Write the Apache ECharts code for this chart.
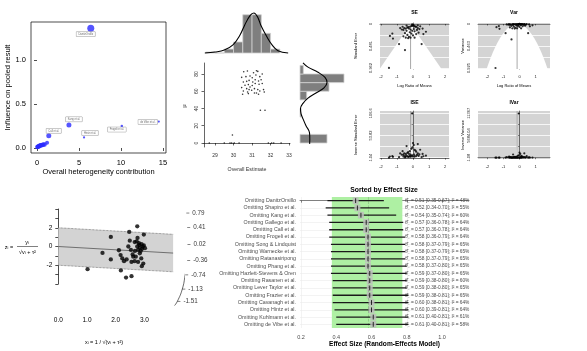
<!DOCTYPE html>
<html>
<head>
<meta charset="utf-8">
<title>meta-analysis diagnostics</title>
<script src="https://cdn.jsdelivr.net/npm/echarts@6/dist/echarts.min.js"></script>
<style>
  html, body { margin: 0; padding: 0; background: #fff; }
  #chart { width: 587px; height: 351px; }
</style>
</head>
<body>
<div id="chart"></div>
<script>
// Baujat plot
var baujatX = [6.4, 3.8, 1.4, 5.6, 10.1, 14.5, 1.2, 0.9, 0.65, 0.5, 0.35, 0.2, 0.1, 0.05, 0.4, 0.75, 0.25];
var baujatY = [1.36, 0.26, 0.14, 0.12, 0.25, 0.30, 0.06, 0.04, 0.035, 0.03, 0.025, 0.02, 0.015, 0.01, 0.03, 0.04, 0.02];
var baujatWeight = [7, 5, 5, 2.2, 2.5, 2.2, 4, 4.5, 4.5, 4.5, 4.5, 4.5, 4.5, 4.5, 4.5, 4.5, 4.5];
var baujatLabel = ['DanitzOrsillo', 'Kang et al.', 'Call et al.', 'Hintz et al.', 'Frogeli et al.', 'de Vibe et al.',
  '', '', '', '', '', '', '', '', '', '', ''];

// GOSH plot: overall estimate vs I^2
var goshEst = [30.55, 30.75, 31.24, 30.44, 30.67, 30.89, 31.01, 31.21, 31.42, 31.55, 30.53, 30.71, 30.84, 31.04,
  31.17, 31.35, 31.49, 30.62, 30.80, 31.01, 31.17, 31.38, 31.55, 30.44, 30.71, 30.89, 31.13, 31.31, 31.62, 30.53,
  30.76, 30.98, 31.24, 31.42, 31.66, 30.49, 30.80, 31.13, 31.35, 30.84, 31.08, 31.31,
  28.69, 29.5, 29.81, 29.9, 30.04, 30.3, 31.88, 32.06, 32.17, 32.57, 29.94, 31.45, 31.7];
var goshI2 = [82.6, 83.4, 83.8, 76.1, 76.9, 77.6, 75.7, 78.8, 76.9, 80, 70.7, 71.5, 72.6, 70.7,
  73.4, 71.9, 73.4, 66.9, 67.7, 66.6, 68.9, 68.1, 68.9, 64.2, 63.0, 65.0, 63.0, 61.9, 61.9, 60.3,
  59.2, 61.1, 58.0, 60.3, 59.2, 56.5, 57.3, 58.0, 56.5, 61.9, 81.5, 83.0,
  0, 0, 0, 0, 0, 0, 0, 0, 0, 0, 9.3, 38, 38];
var estBinStart = [28.5, 29, 29.5, 30, 30.5, 31, 31.5, 32];
var estBinDensity = [0.017, 0, 0.068, 0.19, 0.66, 0.66, 0.34, 0.068];
var estCurveX = [28.45, 29.0, 29.5, 29.97, 30.35, 30.6, 30.9, 31.1, 31.3, 31.5, 31.8, 32.08, 32.4, 32.95];
var estCurveD = [0.0, 0.017, 0.05, 0.14, 0.31, 0.48, 0.65, 0.69, 0.62, 0.46, 0.28, 0.14, 0.04, 0.0];
var i2BinStart = [0, 10, 20, 30, 40, 50, 60, 70, 80];
var i2BinDensity = [0.027, 0, 0, 0.001, 0, 0.0067, 0.029, 0.044, 0.0033];
var i2CurveY = [93, 88, 82, 76, 70, 64, 58, 52, 46, 40, 34, 28, 20, 12, 4, -1];
var i2CurveD = [0.003, 0.008, 0.018, 0.025, 0.027, 0.024, 0.016, 0.008, 0.003, 0.0005, 0.001, 0.003, 0.006, 0.0095, 0.0098, 0.0096];

// funnel plots
var pooledEst = -0.15;
var studyEst = [-1.5, -1.44, -1.29, -1.25, -0.87, -0.5, 0.54, 0.81, 0.65, -0.05,
  0.0, 0.05, -0.05, -0.1, 0.1, -0.2, 0.15, -0.3, 0.2, -0.35, 0.3, -0.45, 0.4, -0.55, -0.25, -0.15, 0.05, -0.6, 0.25, -0.4,
  -0.05, 0.1, -0.2, 0.35, -0.5, -0.1, 0.2, -0.35, 0.0, -0.6, -0.25, -0.45, -0.3, -0.15, 0.1, -0.7, 0.45, -0.65, 0.3, -0.4,
  -0.8, 0.6];
var studySE = [0.962, 0.26, 0.21, 0.32, 0.44, 0.57, 0.44, 0.17, 0.22, 0.0094,
  0.028, 0.032, 0.04, 0.045, 0.05, 0.06, 0.055, 0.07, 0.065, 0.08, 0.09, 0.1, 0.11, 0.09, 0.1, 0.12, 0.11, 0.13, 0.13, 0.15,
  0.15, 0.16, 0.18, 0.19, 0.2, 0.21, 0.22, 0.24, 0.25, 0.27, 0.28, 0.3, 0.31, 0.3, 0.3, 0.12, 0.05, 0.06, 0.03, 0.035,
  0.09, 0.1];
var seTickLabels = ['0', '0.481', '0.962'];
var varTickLabels = ['0', '0.463', '0.925'];
var iseTickLabels = ['1.04', '53.82', '106.6'];
var ivarTickLabels = ['1.08', '5684.04', '11367'];

// radial (Galbraith) plot
var radialX = [1.02, 1.54, 1.83, 1.83, 2.18, 2.36, 2.55, 2.75, 2.47, 2.11, 2.17, 2.23, 2.29, 2.44, 2.49, 2.53, 2.59, 2.61,
  2.66, 2.73, 2.76, 2.82, 2.84, 2.90, 2.94, 2.98, 3.02, 2.89, 2.96, 2.91, 2.78, 2.70, 2.84, 2.98, 2.38, 2.55, 2.67, 2.78,
  2.87, 2.92, 2.75, 2.81, 2.66];
var radialZ = [-2.42, -0.69, 1.02, -1.38, -2.55, -3.31, -3.16, 2.15, 1.56, -0.4, -0.91, -1.27, -1.56, 0, 0.62, -0.36, -0.84,
  -1.09, -1.56, 0.55, 0.91, 0.18, -0.11, 0.25, 0, 0.11, -0.18, -1.27, -1.82, -2.1, -1.64, -1.09, -0.73, 1.27, -1.38, -1.64,
  -0.47, -0.36, -0.47, -0.25, 0, 0.36, 0.47];
var bandX = [0, 4.0];
var bandUpper = [2, 1.3];
var bandLower = [-2, -2.7];
var bandCentre = [0, -0.7];
var arcX = [4.44, 4.46, 4.49, 4.50, 4.49, 4.42, 4.32, 4.15, 4.05];
var arcZ = [3.95, 3.57, 2.05, 0.22, -1.51, -3.03, -4.54, -5.84, -6.3];
var arcLabels = ['', '0.79', '0.41', '0.02', '-0.36', '-0.74', '-1.13', '-1.51', ''];

// leave-one-out forest plot
var forestStudies = ['Omitting DanitzOrsillo', 'Omitting Shapiro et al.', 'Omitting Kang et al.', 'Omitting Gallego et al.',
  'Omitting Call et al.', 'Omitting Frogeli et al.', 'Omitting Song & Lindquist', 'Omitting Warnecke et al.',
  'Omitting Ratanasiripong', 'Omitting Phang et al.', 'Omitting Hazlett-Stevens & Oren', 'Omitting Rasanen et al.',
  'Omitting Lever Taylor et al.', 'Omitting Frazier et al.', 'Omitting Cavanagh et al.', 'Omitting Hintz et al.',
  'Omitting Kuhlmann et al.', 'Omitting de Vibe et al.'];
var forestEst = [0.51, 0.52, 0.54, 0.57, 0.57, 0.58, 0.58, 0.58, 0.58, 0.58, 0.59, 0.59, 0.59, 0.59, 0.60, 0.60, 0.61, 0.61];
var forestLo = [0.35, 0.34, 0.35, 0.36, 0.36, 0.36, 0.37, 0.37, 0.37, 0.37, 0.37, 0.38, 0.38, 0.38, 0.38, 0.39, 0.40, 0.40];
var forestHi = [0.67, 0.70, 0.74, 0.78, 0.78, 0.79, 0.79, 0.79, 0.79, 0.80, 0.80, 0.80, 0.80, 0.81, 0.81, 0.81, 0.81, 0.81];
var forestI2 = [48, 55, 60, 64, 64, 64, 65, 65, 65, 65, 65, 60, 65, 65, 64, 64, 61, 58];
var overallLo = 0.375, overallHi = 0.775, overallEst = 0.58;

var FONT = '"Liberation Sans", Arial, Helvetica, sans-serif';
var chart = echarts.init(document.getElementById('chart'));

function pairs(xs, ys) { return xs.map(function (x, i) { return [x, ys[i]]; }); }

function hiddenAxis(gi, min, max, inv) {
  return { gridIndex: gi, type: 'value', min: min, max: max, inverse: !!inv, show: false };
}

function funnelPolygon(levels, halfWidth) {
  var left = [], right = [];
  levels.forEach(function (l) {
    var h = halfWidth(l);
    left.push([pooledEst - h, l]);
    right.push([pooledEst + h, l]);
  });
  return left.concat(right.reverse());
}

function polygonSeries(gi, pts, color, clip) {
  return {
    type: 'custom', xAxisIndex: gi, yAxisIndex: gi, clip: clip, silent: true, z: 1, data: [0],
    renderItem: function (params, api) {
      return { type: 'polygon', shape: { points: pts.map(function (p) { return api.coord(p); }) }, style: { fill: color } };
    }
  };
}

// funnel axes: x ticks -2..2, y ticks from 5 values, 3 labelled
function funnelX(gi, min, max) {
  return {
    gridIndex: gi, type: 'value', min: min, max: max,
    axisLine: { show: true, lineStyle: { color: '#000', width: 0.5 } },
    axisTick: { length: 1.5, lineStyle: { color: '#000', width: 0.5 }, customValues: [-2, -1, 0, 1, 2] },
    axisLabel: { customValues: [-2, -1, 0, 1, 2], fontSize: 4, color: '#222', margin: 6, fontFamily: FONT },
    splitLine: { show: false }
  };
}
function funnelY(gi, min, max, inv, ticks, labels) {
  var labVals = [ticks[0], ticks[2], ticks[4]];
  return {
    gridIndex: gi, type: 'value', min: min, max: max, inverse: inv,
    axisLine: { show: true, lineStyle: { color: '#000', width: 0.5 } },
    axisTick: { length: 1.5, lineStyle: { color: '#000', width: 0.5 }, customValues: ticks },
    axisLabel: {
      customValues: labVals, rotate: 90, fontSize: 4, color: '#222', margin: 7, fontFamily: FONT,
      formatter: function (v) {
        for (var i = 0; i < 3; i++) { if (Math.abs(v - labVals[i]) < 1e-6 * Math.max(1, Math.abs(v))) return labels[i]; }
        return '';
      }
    },
    splitLine: { show: true, lineStyle: { color: '#fff', width: 0.8 } }
  };
}

var seTicks = [0, 0.2405, 0.481, 0.7215, 0.962];
var varTicks = [0, 0.2314, 0.4627, 0.6941, 0.9254];
var iseTicks = [1.04, 27.43, 53.82, 80.21, 106.6];
var ivarTicks = [1.08, 2842.5, 5684.04, 8525.5, 11367];

var grids = [
  { left: 31, top: 22, width: 135, height: 131, show: true, borderColor: '#000', borderWidth: 0.7, backgroundColor: '#fff' }, // 0 baujat
  { left: 204, top: 63, width: 86, height: 84 },   // 1 gosh scatter
  { left: 204, top: 13, width: 86, height: 40 },   // 2 gosh top hist
  { left: 300, top: 63, width: 50, height: 84 },   // 3 gosh right hist
  { left: 380, top: 23, width: 69, height: 46, show: true, borderWidth: 0, backgroundColor: '#d4d4d4' }, // 4 SE
  { left: 478, top: 23, width: 72, height: 46, show: true, borderWidth: 0, backgroundColor: '#d4d4d4' }, // 5 Var
  { left: 380, top: 111, width: 69, height: 48, show: true, borderWidth: 0, backgroundColor: '#d4d4d4' }, // 6 ISE
  { left: 478, top: 111, width: 72, height: 48, show: true, borderWidth: 0, backgroundColor: '#d4d4d4' }, // 7 IVar
  { left: 300, top: 197, width: 169, height: 131 }, // 8 forest
  { left: 58.3, top: 209, width: 126.3, height: 75 }, // 9 radial data
  { left: 58.3, top: 209, width: 100.45, height: 75 } // 10 radial axes
];

var xAxes = [
  {
    gridIndex: 0, type: 'value', min: -0.714, max: 15.357,
    axisLine: { show: false },
    axisTick: { length: 3, lineStyle: { color: '#000', width: 0.7 }, customValues: [0, 5, 10, 15] },
    axisLabel: { customValues: [0, 5, 10, 15], fontSize: 7.5, color: '#000', margin: 6, fontFamily: FONT },
    splitLine: { show: false },
    name: 'Overall heterogeneity contribution', nameLocation: 'middle', nameGap: 15,
    nameTextStyle: { fontSize: 7.5, color: '#000', fontFamily: FONT }
  },
  {
    gridIndex: 1, type: 'value', min: 28.405, max: 33.05,
    axisLine: { show: true, lineStyle: { color: '#000', width: 0.6 } },
    axisTick: { length: 2.5, lineStyle: { color: '#000', width: 0.6 }, customValues: [29, 30, 31, 32, 33] },
    axisLabel: { customValues: [29, 30, 31, 32, 33], fontSize: 5, color: '#333', margin: 6, fontFamily: FONT },
    splitLine: { show: false },
    name: 'Overall Estimate', nameLocation: 'middle', nameGap: 20,
    nameTextStyle: { fontSize: 5.3, color: '#333', fontFamily: FONT }
  },
  hiddenAxis(2, 28.405, 33.05),
  hiddenAxis(3, 0, 0.05),
  funnelX(4, -2.06, 2.25),
  funnelX(5, -2.594, 1.906),
  funnelX(6, -2.06, 2.25),
  funnelX(7, -2.594, 1.906),
  {
    gridIndex: 8, type: 'value', min: 0.1943, max: 1.1532, offset: 3,
    axisLine: { show: true, lineStyle: { color: '#333', width: 0.6 } },
    axisTick: { length: 2, lineStyle: { color: '#333', width: 0.6 }, customValues: [0.2, 0.4, 0.6, 0.8, 1.0] },
    axisLabel: { customValues: [0.2, 0.4, 0.6, 0.8, 1.0], fontSize: 5.5, color: '#4d4d4d', margin: 3, fontFamily: FONT,
      formatter: function (v) { return v.toFixed(1); } },
    splitLine: { show: true, lineStyle: { color: '#ebebeb', width: 0.6 } },
    name: 'Effect Size (Random-Effects Model)', nameLocation: 'middle', nameGap: 10,
    nameTextStyle: { fontSize: 6.6, fontWeight: 'bold', color: '#000', fontFamily: FONT }
  },
  hiddenAxis(9, 0, 4.4),
  {
    gridIndex: 10, type: 'value', min: 0, max: 3.5, interval: 0.5, offset: 28,
    axisLine: { show: true, lineStyle: { color: '#000', width: 0.7 } },
    axisTick: { length: 3, lineStyle: { color: '#000', width: 0.7 } },
    axisLabel: { fontSize: 6.5, color: '#000', margin: 5, fontFamily: FONT,
      formatter: function (v) { return v % 1 === 0 ? v.toFixed(1) : ''; } },
    splitLine: { show: false }
  }
];

var yAxes = [
  {
    gridIndex: 0, type: 'value', min: -0.057, max: 1.432,
    axisLine: { show: false },
    axisTick: { length: 3, lineStyle: { color: '#000', width: 0.7 }, customValues: [0, 0.5, 1] },
    axisLabel: { customValues: [0, 0.5, 1], fontSize: 7.5, color: '#000', margin: 5, fontFamily: FONT,
      formatter: function (v) { return v.toFixed(1); } },
    splitLine: { show: false },
    name: 'Influence on pooled result', nameLocation: 'middle', nameGap: 19,
    nameTextStyle: { fontSize: 7.5, color: '#000', fontFamily: FONT }
  },
  {
    gridIndex: 1, type: 'value', min: -4.64, max: 92.75,
    axisLine: { show: true, lineStyle: { color: '#000', width: 0.6 } },
    axisTick: { length: 2.5, lineStyle: { color: '#000', width: 0.6 }, customValues: [0, 20, 40, 60, 80] },
    axisLabel: { customValues: [0, 20, 40, 60, 80], rotate: 90, fontSize: 5, color: '#333', margin: 5, fontFamily: FONT },
    splitLine: { show: false }
  },
  hiddenAxis(2, 0, 0.69),
  hiddenAxis(3, -4.64, 92.75),
  funnelY(4, -0.022, 0.985, true, seTicks, seTickLabels),
  funnelY(5, -0.021, 0.946, true, varTicks, varTickLabels),
  funnelY(6, -2.05, 112.1, false, iseTicks, iseTickLabels),
  funnelY(7, -332, 11956, false, ivarTicks, ivarTickLabels),
  {
    gridIndex: 8, type: 'value', min: -0.5, max: 17.5, inverse: true,
    axisLine: { show: false },
    axisTick: { show: false, customValues: forestStudies.map(function (s, i) { return i; }) },
    axisLabel: { customValues: forestStudies.map(function (s, i) { return i; }), fontSize: 5.3, color: '#4d4d4d',
      margin: 4, fontFamily: FONT, formatter: function (v) { return forestStudies[v] || ''; } },
    splitLine: { show: true, lineStyle: { color: '#ebebeb', width: 0.6 } }
  },
  hiddenAxis(9, -4, 4),
  {
    gridIndex: 10, type: 'value', min: -4, max: 4, interval: 1,
    axisLine: { show: true, lineStyle: { color: '#000', width: 0.7 } },
    axisTick: { length: 3, lineStyle: { color: '#000', width: 0.7 } },
    axisLabel: { fontSize: 6.5, color: '#000', margin: 6, fontFamily: FONT,
      formatter: function (v) { return (v === 0 || v === 2 || v === -2) ? String(v) : ''; } },
    splitLine: { show: false }
  }
];

var series = [];

// Baujat
var baujatLabelPos = ['bottom', 'top', 'top', 'top', 'bottom', 'bottom'];
var baujatLabelOff = [[-5, -1], [5, 0], [5, 1], [6, 0], [-5, -1], [-11, -4]];
series.push({
  type: 'scatter', xAxisIndex: 0, yAxisIndex: 0, clip: false, z: 3,
  data: baujatX.map(function (x, i) {
    return {
      value: [x, baujatY[i]], name: baujatLabel[i],
      label: { show: !!baujatLabel[i], position: baujatLabelPos[i] || 'top', offset: baujatLabelOff[i] || [0, 0], distance: 1 }
    };
  }),
  symbolSize: function (v, p) { return baujatWeight[p.dataIndex]; },
  itemStyle: { color: '#2a2aff' },
  label: { formatter: '{b}', fontSize: 2.6, lineHeight: 3, color: '#444', fontFamily: FONT, padding: [0.8, 2],
    borderColor: '#777', borderWidth: 0.4, backgroundColor: '#fff' }
});

// GOSH scatter + marginal histograms
series.push({
  type: 'scatter', xAxisIndex: 1, yAxisIndex: 1, clip: false, symbolSize: 1.6,
  itemStyle: { color: '#000' }, data: pairs(goshEst, goshI2)
});
series.push({
  type: 'custom', xAxisIndex: 2, yAxisIndex: 2, clip: false,
  data: estBinStart.map(function (s, i) { return [s, s + 0.5, estBinDensity[i]]; }),
  encode: { x: [0, 1], y: 2 },
  renderItem: function (params, api) {
    var p0 = api.coord([api.value(0), api.value(2)]);
    var p1 = api.coord([api.value(1), 0]);
    return { type: 'rect', shape: { x: p0[0], y: p0[1], width: p1[0] - p0[0], height: p1[1] - p0[1] },
      style: { fill: '#7f7f7f', stroke: '#d0d0d0', lineWidth: 0.8 } };
  }
});
series.push({
  type: 'line', xAxisIndex: 2, yAxisIndex: 2, clip: false, smooth: 0.4, symbol: 'none', z: 3,
  lineStyle: { color: '#000', width: 1.1 }, data: pairs(estCurveX, estCurveD)
});
series.push({
  type: 'custom', xAxisIndex: 3, yAxisIndex: 3, clip: false,
  data: i2BinStart.map(function (s, i) { return [i2BinDensity[i], s, s + 10]; }),
  encode: { x: 0, y: [1, 2] },
  renderItem: function (params, api) {
    if (!api.value(0)) return null;
    var p0 = api.coord([0, api.value(2)]);
    var p1 = api.coord([api.value(0), api.value(1)]);
    return { type: 'rect', shape: { x: p0[0], y: p0[1], width: p1[0] - p0[0], height: p1[1] - p0[1] },
      style: { fill: '#7f7f7f', stroke: '#d0d0d0', lineWidth: 0.8 } };
  }
});
series.push({
  type: 'line', xAxisIndex: 3, yAxisIndex: 3, clip: false, smooth: 0.4, symbol: 'none', z: 3,
  lineStyle: { color: '#000', width: 1.1 }, data: pairs(i2CurveD, i2CurveY)
});

// funnel plots
var funnelPanels = [
  { gi: 4, y: function (se) { return se; }, poly: funnelPolygon([0, 0.985], function (l) { return 1.96 * l; }), ymin: 0, ymax: 0.985 },
  { gi: 5, y: function (se) { return se * se; },
    poly: funnelPolygon([0, 0.002, 0.01, 0.03, 0.06, 0.1, 0.15, 0.22, 0.3, 0.4, 0.5, 0.6, 0.7, 0.8, 0.946],
      function (l) { return 1.96 * Math.sqrt(l); }), ymin: 0, ymax: 0.946 },
  { gi: 6, y: function (se) { return 1 / se; },
    poly: funnelPolygon([1.04, 1.3, 1.7, 2.2, 3, 4, 6, 9, 14, 22, 35, 60, 112.1], function (l) { return 1.96 / l; }),
    ymin: 1.04, ymax: 112.1 },
  { gi: 7, y: function (se) { return 1 / (se * se); },
    poly: funnelPolygon([1.08, 1.5, 2.5, 5, 10, 25, 60, 150, 400, 1000, 3000, 11956], function (l) { return 1.96 / Math.sqrt(l); }),
    ymin: 1.08, ymax: 11956 }
];
funnelPanels.forEach(function (f) {
  series.push(polygonSeries(f.gi, f.poly, '#fff', true));
  series.push({
    type: 'line', xAxisIndex: f.gi, yAxisIndex: f.gi, symbol: 'none', z: 2,
    lineStyle: { color: '#6e6e6e', width: 0.6 }, data: [[pooledEst, f.ymin], [pooledEst, f.ymax]]
  });
  series.push({
    type: 'scatter', xAxisIndex: f.gi, yAxisIndex: f.gi, symbolSize: 2.2, z: 3, clip: false,
    itemStyle: { color: '#000' },
    data: studyEst.map(function (e, i) { return [e, f.y(studySE[i])]; })
  });
});

// forest plot
series.push({
  type: 'scatter', xAxisIndex: 8, yAxisIndex: 8, symbolSize: 0, z: 1,
  data: forestStudies.map(function (s, i) { return [0.79, i]; }),
  label: {
    show: true, position: 'right', distance: 0, fontSize: 4.8, color: '#222', fontFamily: FONT,
    formatter: function (p) {
      var i = p.dataIndex;
      return '\u03b8\u0302\u208b = ' + forestEst[i].toFixed(2) + ' [' + forestLo[i].toFixed(2) + '-' +
        forestHi[i].toFixed(2) + ']; I\u00b2 = ' + forestI2[i] + '%';
    }
  },
  markArea: { silent: true, itemStyle: { color: '#aef0a3' }, data: [[{ xAxis: overallLo }, { xAxis: overallHi }]] },
  markLine: { silent: true, symbol: 'none', label: { show: false },
    lineStyle: { color: 'rgba(0,0,0,0.22)', type: 'dashed', width: 0.7 }, data: [{ xAxis: overallEst }] }
});
series.push({
  type: 'custom', xAxisIndex: 8, yAxisIndex: 8, z: 4,
  data: forestStudies.map(function (s, i) { return [i, forestEst[i], forestLo[i], forestHi[i]]; }),
  encode: { y: 0, x: [1, 2, 3] },
  renderItem: function (params, api) {
    var row = api.value(0);
    var pE = api.coord([api.value(1), row]);
    var pL = api.coord([api.value(2), row]);
    var pH = api.coord([api.value(3), row]);
    return { type: 'group', children: [
      { type: 'line', shape: { x1: pL[0], y1: pE[1], x2: pH[0], y2: pE[1] }, style: { stroke: '#1a1a1a', lineWidth: 1.3 } },
      { type: 'rect', shape: { x: pE[0] - 3, y: pE[1] - 3.4, width: 6, height: 6.8 }, style: { fill: '#bdbdbd', opacity: 0.85 } },
      { type: 'line', shape: { x1: pE[0], y1: pE[1] - 2.4, x2: pE[0], y2: pE[1] + 2.4 }, style: { stroke: '#000', lineWidth: 0.8 } }
    ] };
  }
});

// radial plot
series.push(polygonSeries(9, [[bandX[0], bandUpper[0]], [bandX[1], bandUpper[1]], [bandX[1], bandLower[1]], [bandX[0], bandLower[0]]], '#d3d3d3', false));
series.push({ type: 'line', xAxisIndex: 9, yAxisIndex: 9, symbol: 'none', clip: false, z: 2,
  lineStyle: { color: '#555', width: 0.7, type: 'dotted' }, data: pairs(bandX, bandUpper) });
series.push({ type: 'line', xAxisIndex: 9, yAxisIndex: 9, symbol: 'none', clip: false, z: 2,
  lineStyle: { color: '#555', width: 0.7, type: 'dotted' }, data: pairs(bandX, bandLower) });
series.push({ type: 'line', xAxisIndex: 9, yAxisIndex: 9, symbol: 'none', clip: false, z: 2,
  lineStyle: { color: '#555', width: 0.8 }, data: pairs(bandX, bandCentre) });
series.push({ type: 'scatter', xAxisIndex: 9, yAxisIndex: 9, symbolSize: 4.3, clip: false, z: 3,
  itemStyle: { color: '#000' }, data: pairs(radialX, radialZ) });
series.push({ type: 'line', xAxisIndex: 9, yAxisIndex: 9, symbol: 'none', clip: false, smooth: 0.5, z: 2,
  lineStyle: { color: '#000', width: 0.6 }, data: pairs(arcX, arcZ) });
series.push({
  type: 'scatter', xAxisIndex: 9, yAxisIndex: 9, clip: false, z: 3,
  symbol: 'rect', symbolSize: [3, 0.6], symbolOffset: [1.5, 0], itemStyle: { color: '#000' },
  data: arcX.map(function (x, i) { return { value: [x, arcZ[i]], name: arcLabels[i] }; }).filter(function (d) { return d.name; }),
  label: { show: true, position: 'right', distance: 3, formatter: '{b}', fontSize: 6.3, color: '#000', fontFamily: FONT }
});

function txt(x, y, s, font, rot) {
  return { type: 'text', x: x, y: y, rotation: rot || 0, silent: true,
    style: { text: s, font: font, fill: '#000', textAlign: 'center', textVerticalAlign: 'middle' } };
}
var f4 = '4px ' + FONT, f5b = 'bold 5px ' + FONT;
var graphics = [
  txt(384, 190, 'Sorted by Effect Size', 'bold 6.8px ' + FONT),
  txt(414.5, 13, 'SE', f5b), txt(514, 13, 'Var', f5b), txt(414.5, 103, 'ISE', f5b), txt(514, 103, 'IVar', f5b),
  txt(414.5, 86, 'Log Ratio of Means', f4), txt(514, 86, 'Log Ratio of Means', f4),
  txt(356, 46, 'Standard Error', f4, Math.PI / 2), txt(463, 46, 'Variance', f4, Math.PI / 2),
  txt(356, 135, 'Inverse Standard Error', f4, Math.PI / 2), txt(463, 135, 'Inverse Variance', f4, Math.PI / 2),
  txt(185, 106, 'I\u00b2', '5.5px ' + FONT, Math.PI / 2),
  txt(9, 247, 'z\u1d62 =', '5.5px ' + FONT),
  txt(27, 242, 'y\u1d62', '5.5px ' + FONT),
  { type: 'line', silent: true, shape: { x1: 17, y1: 246.5, x2: 38, y2: 246.5 }, style: { stroke: '#000', lineWidth: 0.5 } },
  txt(27.5, 252, '\u221av\u1d62 + \u03c4\u00b2', '5.5px ' + FONT),
  txt(104, 342, 'x\u1d62 = 1 / \u221a(v\u1d62 + \u03c4\u00b2)', '5.5px ' + FONT)
];

chart.setOption({
  animation: false,
  backgroundColor: '#fff',
  textStyle: { fontFamily: FONT },
  grid: grids,
  xAxis: xAxes,
  yAxis: yAxes,
  series: series,
  graphic: graphics
});
</script>
</body>
</html>
